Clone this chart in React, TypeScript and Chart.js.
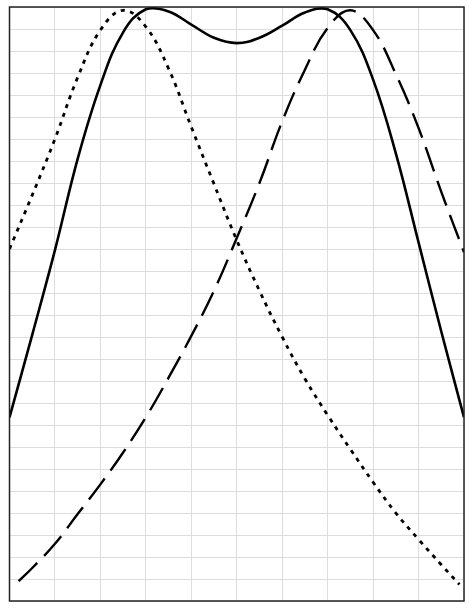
import { useEffect, useRef } from "react"
import { Chart, registerables, type ChartConfiguration, type Plugin } from "chart.js"

Chart.register(...registerables)

// values (x: 0..10, y: 0..27)
const solidX = [0, 0.5, 1, 1.5, 2, 2.5, 3, 3.5, 4, 4.5, 5, 5.5, 6, 6.5, 7, 7.5, 8, 8.5, 9, 9.5, 10]
const solidY = [8.35, 12.1, 15.95, 20.1, 23.45, 25.85, 26.9, 26.8, 26.2, 25.6, 25.36, 25.6, 26.15, 26.75, 26.9, 25.95, 23.7, 20.35, 16.3, 12.25, 8.35]

const dottedX = [0, 0.5, 1, 1.5, 2, 2.5, 3, 3.5, 4, 4.5, 5, 5.5, 6, 6.5, 7, 7.5, 8, 8.5, 9, 9.5, 9.9]
const dottedY = [16.0, 18.45, 21.0, 23.8, 25.95, 26.85, 26.1, 24.2, 21.55, 18.95, 16.4, 14.1, 12.0, 10.1, 8.45, 6.9, 5.4, 4.0, 2.8, 1.65, 0.75]

const dashedX = [0.2, 0.5, 1, 1.5, 2, 2.5, 3, 3.5, 4, 4.5, 5, 5.5, 6, 6.5, 7, 7.5, 8, 8.5, 9, 9.5, 10]
const dashedY = [0.9, 1.5, 2.6, 3.95, 5.3, 6.75, 8.35, 10.15, 12.05, 14.1, 16.5, 19.0, 21.8, 24.15, 26.05, 26.85, 25.95, 23.95, 21.5, 18.6, 15.85]

const toPoints = (xs: number[], ys: number[]) => xs.map((x, i) => ({ x, y: ys[i] }))

// outline of the plot area
const framePlugin: Plugin = {
  id: "frame",
  afterDraw(chart) {
    const { ctx, chartArea } = chart
    ctx.save()
    ctx.strokeStyle = "#222"
    ctx.lineWidth = 1.5
    ctx.strokeRect(chartArea.left, chartArea.top, chartArea.right - chartArea.left, chartArea.bottom - chartArea.top)
    ctx.restore()
  },
}

export default function App() {
  const canvasRef = useRef<HTMLCanvasElement>(null)

  useEffect(() => {
    if (!canvasRef.current) return
    const ctx = canvasRef.current.getContext("2d")
    if (!ctx) return

    const common = {
      borderColor: "#000",
      pointRadius: 0,
      fill: false,
      tension: 0.4,
    }

    const config: ChartConfiguration<"line"> = {
      type: "line",
      data: {
        datasets: [
          { ...common, data: toPoints(solidX, solidY), borderWidth: 2.6 },
          { ...common, data: toPoints(dottedX, dottedY), borderWidth: 2.8, borderDash: [4, 5.5] },
          { ...common, data: toPoints(dashedX, dashedY), borderWidth: 2.4, borderDash: [26, 10] },
        ],
      },
      options: {
        animation: false,
        responsive: true,
        maintainAspectRatio: false,
        layout: { padding: { left: 9.5, top: 7, right: 8, bottom: 9 } },
        plugins: { legend: { display: false }, tooltip: { enabled: false } },
        scales: {
          x: {
            type: "linear",
            min: 0,
            max: 10,
            ticks: { display: false, stepSize: 1 },
            grid: { color: "#dddddd", lineWidth: 1, drawTicks: false },
            border: { display: false },
          },
          y: {
            type: "linear",
            min: 0,
            max: 27,
            ticks: { display: false, stepSize: 1 },
            grid: { color: "#dddddd", lineWidth: 1, drawTicks: false },
            border: { display: false },
          },
        },
      },
      plugins: [framePlugin],
    }

    const chart = new Chart(ctx, config)
    return () => chart.destroy()
  }, [])

  return (
    <div style={{ position: "absolute", left: 0, top: 0, width: 472, height: 610, background: "#fff" }}>
      <canvas ref={canvasRef} />
    </div>
  )
}
